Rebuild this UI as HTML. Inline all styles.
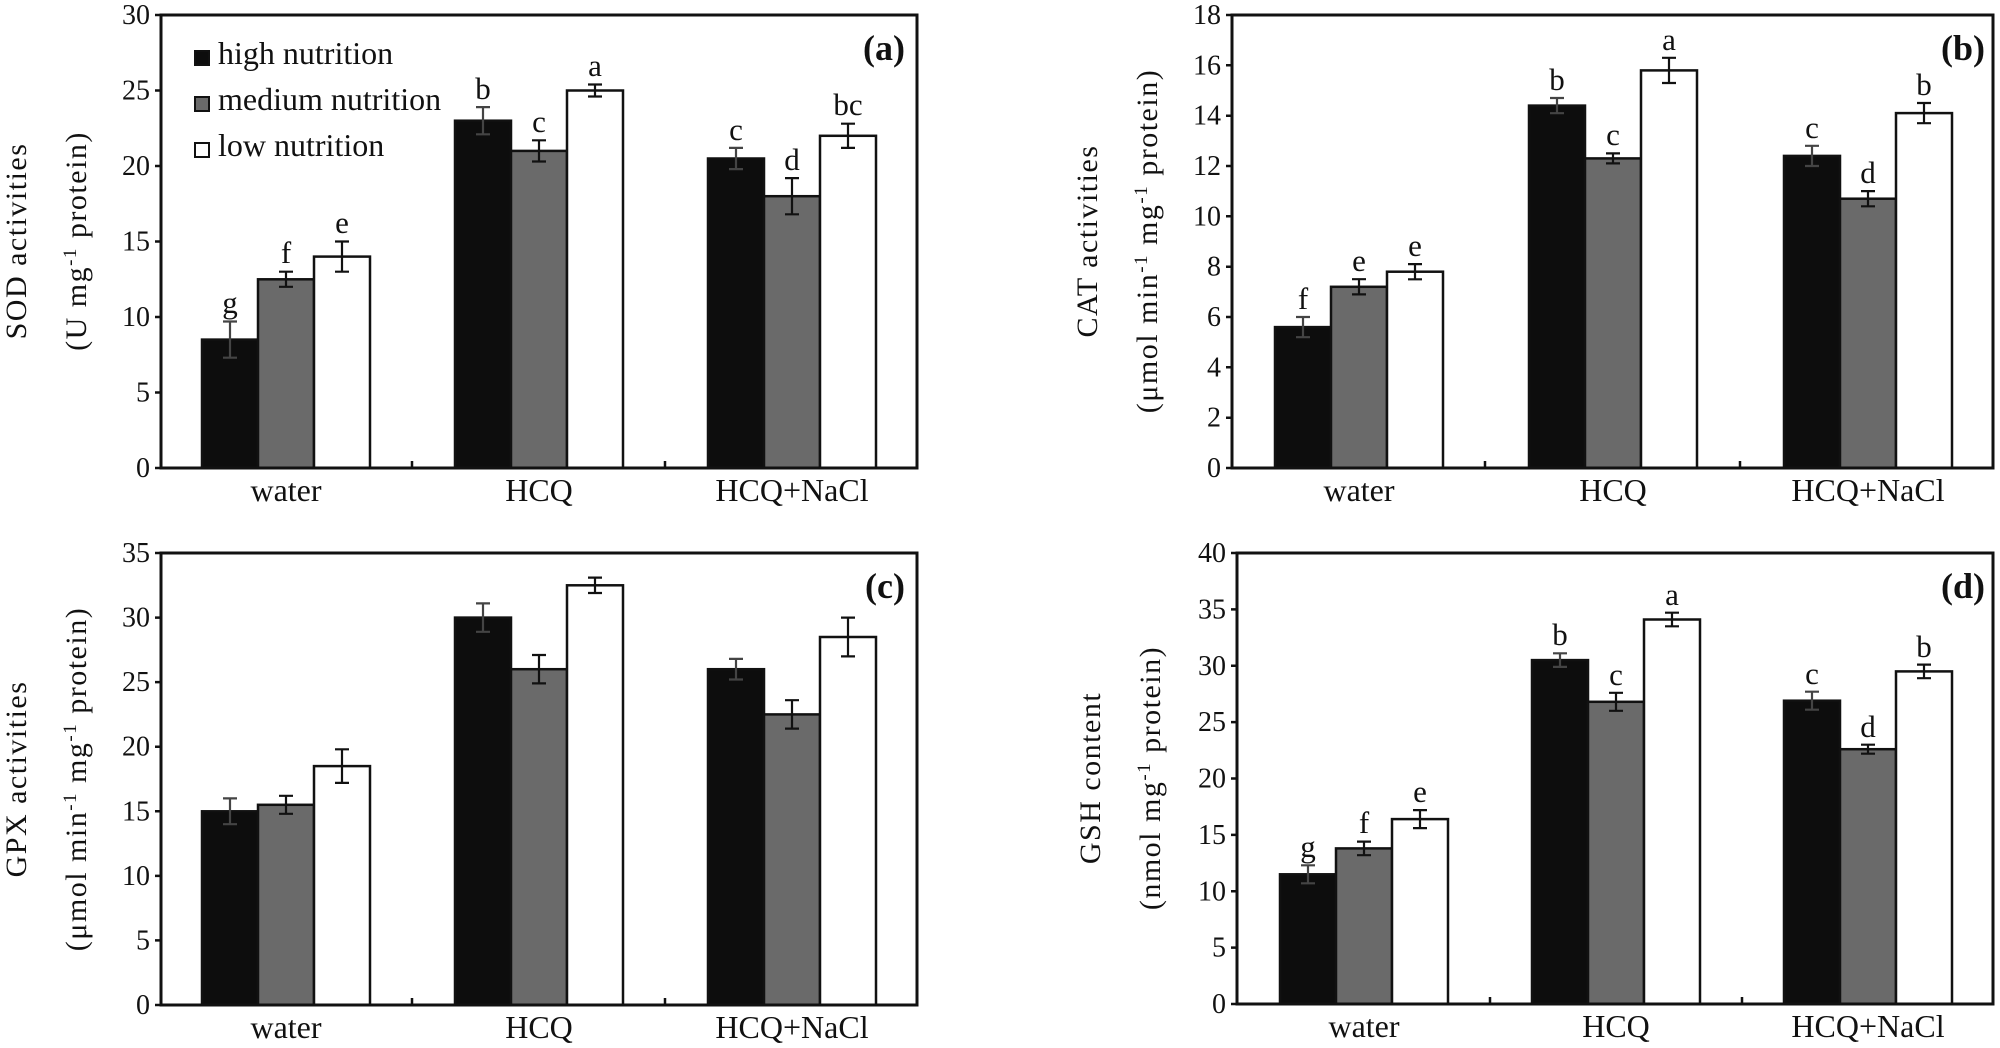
<!DOCTYPE html>
<html><head><meta charset="utf-8"><style>
html,body{margin:0;padding:0;background:#fff;}
svg{display:block;}
text{font-family:"Liberation Serif",serif;fill:#111;}
.t{font-size:28px;text-anchor:end;}
.c{font-size:32px;text-anchor:middle;}
.l{font-size:31px;text-anchor:middle;}
.p{font-size:36px;font-weight:bold;text-anchor:end;}
.y{font-size:30px;text-anchor:middle;letter-spacing:1.5px;}
.g{font-size:32px;}
.fr{fill:none;stroke:#111;stroke-width:3;}
.bk{fill:#0d0d0d;stroke:#111;stroke-width:2.5;}
.gr{fill:#6a6a6a;stroke:#111;stroke-width:2.5;}
.wh{fill:#fff;stroke:#111;stroke-width:2.5;}
.e{stroke:#111;stroke-width:2.2;fill:none;}
.e2{stroke:#444;stroke-width:2.2;fill:none;}
.tk{stroke:#111;stroke-width:2.5;}
</style></head><body>
<svg width="2000" height="1048" viewBox="0 0 2000 1048" xmlns="http://www.w3.org/2000/svg">
<!-- ===== Panel a ===== -->
<g>
<rect class="bk" x="202" y="339.6" width="56" height="128.4"/>
<rect class="gr" x="258" y="279.3" width="56" height="188.7"/>
<rect class="wh" x="314" y="256.6" width="56" height="211.4"/>
<rect class="bk" x="455" y="120.7" width="56" height="347.3"/>
<rect class="gr" x="511" y="150.9" width="56" height="317.1"/>
<rect class="wh" x="567" y="90.5" width="56" height="377.5"/>
<rect class="bk" x="708" y="158.5" width="56" height="309.5"/>
<rect class="gr" x="764" y="196.2" width="56" height="271.8"/>
<rect class="wh" x="820" y="135.8" width="56" height="332.2"/>
<path class="e2" d="M230 321.5V357.7M223 321.5H237M223 357.7H237"/>
<path class="e" d="M286 271.7V286.8M279 271.7H293M279 286.8H293"/>
<path class="e" d="M342 241.5V271.7M335 241.5H349M335 271.7H349"/>
<path class="e2" d="M483 107.1V134.3M476 107.1H490M476 134.3H490"/>
<path class="e" d="M539 140.3V161.5M532 140.3H546M532 161.5H546"/>
<path class="e" d="M595 84.5V96.5M588 84.5H602M588 96.5H602"/>
<path class="e2" d="M736 147.9V169.1M729 147.9H743M729 169.1H743"/>
<path class="e" d="M792 178.1V214.3M785 178.1H799M785 214.3H799"/>
<path class="e" d="M848 123.7V147.9M841 123.7H855M841 147.9H855"/>
<text class="l" x="230" y="313">g</text><text class="l" x="286" y="263">f</text><text class="l" x="342" y="233">e</text>
<text class="l" x="483" y="99">b</text><text class="l" x="539" y="132">c</text><text class="l" x="595" y="76">a</text>
<text class="l" x="736" y="140">c</text><text class="l" x="792" y="170">d</text><text class="l" x="848" y="115">bc</text>
<rect class="fr" x="161" y="15" width="756" height="453"/>
<path class="tk" d="M155 468H161M155 392.5H161M155 317H161M155 241.5H161M155 166H161M155 90.5H161M155 15H161M412 468V461M665 468V461"/>
<text class="t" x="150" y="477">0</text><text class="t" x="150" y="401.5">5</text><text class="t" x="150" y="326">10</text><text class="t" x="150" y="250.5">15</text><text class="t" x="150" y="175">20</text><text class="t" x="150" y="99.5">25</text><text class="t" x="150" y="24">30</text>
<text class="c" x="286" y="501">water</text><text class="c" x="539" y="501">HCQ</text><text class="c" x="792" y="501">HCQ+NaCl</text>
<text class="p" x="905" y="60">(a)</text>
<rect x="195" y="51" width="14" height="14" fill="#0d0d0d" stroke="#111" stroke-width="2"/>
<text class="g" x="218" y="64">high nutrition</text>
<rect x="195" y="97" width="14" height="14" fill="#6a6a6a" stroke="#111" stroke-width="2"/>
<text class="g" x="218" y="110">medium nutrition</text>
<rect x="195" y="143" width="14" height="14" fill="#fff" stroke="#111" stroke-width="2"/>
<text class="g" x="218" y="156">low nutrition</text>
<text class="y" transform="translate(26,241) rotate(-90)">SOD activities</text>
<text class="y" transform="translate(86,241) rotate(-90)">(U mg<tspan font-size="19" dy="-10">-1</tspan><tspan dy="10"> protein)</tspan></text>
</g>
<!-- ===== Panel b ===== -->
<g>
<rect class="bk" x="1275" y="327.1" width="56" height="140.9"/>
<rect class="gr" x="1331" y="286.8" width="56" height="181.2"/>
<rect class="wh" x="1387" y="271.7" width="56" height="196.3"/>
<rect class="bk" x="1529" y="105.6" width="56" height="362.4"/>
<rect class="gr" x="1585" y="158.4" width="56" height="309.6"/>
<rect class="wh" x="1641" y="70.4" width="56" height="397.6"/>
<rect class="bk" x="1784" y="155.9" width="56" height="312.1"/>
<rect class="gr" x="1840" y="198.7" width="56" height="269.3"/>
<rect class="wh" x="1896" y="113.1" width="56" height="354.9"/>
<path class="e2" d="M1303 317V337.2M1296 317H1310M1296 337.2H1310"/>
<path class="e" d="M1359 279.2V294.4M1352 279.2H1366M1352 294.4H1366"/>
<path class="e" d="M1415 264.1V279.3M1408 264.1H1422M1408 279.3H1422"/>
<path class="e2" d="M1557 98V113.2M1550 98H1564M1550 113.2H1564"/>
<path class="e" d="M1613 153.4V163.4M1606 153.4H1620M1606 163.4H1620"/>
<path class="e" d="M1669 57.8V83M1662 57.8H1676M1662 83H1676"/>
<path class="e2" d="M1812 145.8V166M1805 145.8H1819M1805 166H1819"/>
<path class="e" d="M1868 191.1V206.3M1861 191.1H1875M1861 206.3H1875"/>
<path class="e" d="M1924 103V123.2M1917 103H1931M1917 123.2H1931"/>
<text class="l" x="1303" y="309">f</text><text class="l" x="1359" y="271">e</text><text class="l" x="1415" y="256">e</text>
<text class="l" x="1557" y="90">b</text><text class="l" x="1613" y="145">c</text><text class="l" x="1669" y="50">a</text>
<text class="l" x="1812" y="138">c</text><text class="l" x="1868" y="183">d</text><text class="l" x="1924" y="95">b</text>
<rect class="fr" x="1232" y="15" width="761" height="453"/>
<path class="tk" d="M1226 468H1232M1226 417.7H1232M1226 367.3H1232M1226 317H1232M1226 266.7H1232M1226 216.3H1232M1226 166H1232M1226 115.7H1232M1226 65.3H1232M1226 15H1232M1485 468V461M1740 468V461"/>
<text class="t" x="1221" y="477">0</text><text class="t" x="1221" y="426.7">2</text><text class="t" x="1221" y="376.3">4</text><text class="t" x="1221" y="326">6</text><text class="t" x="1221" y="275.7">8</text><text class="t" x="1221" y="225.3">10</text><text class="t" x="1221" y="175">12</text><text class="t" x="1221" y="124.7">14</text><text class="t" x="1221" y="74.3">16</text><text class="t" x="1221" y="24">18</text>
<text class="c" x="1359" y="501">water</text><text class="c" x="1613" y="501">HCQ</text><text class="c" x="1868" y="501">HCQ+NaCl</text>
<text class="p" x="1985" y="60">(b)</text>
<text class="y" transform="translate(1097,241) rotate(-90)">CAT activities</text>
<text class="y" transform="translate(1157,241) rotate(-90)">(μmol min<tspan font-size="19" dy="-10">-1</tspan><tspan dy="10"> mg</tspan><tspan font-size="19" dy="-10">-1</tspan><tspan dy="10"> protein)</tspan></text>
</g>
<!-- ===== Panel c ===== -->
<g>
<rect class="bk" x="202" y="811.3" width="56" height="193.7"/>
<rect class="gr" x="258" y="804.8" width="56" height="200.2"/>
<rect class="wh" x="314" y="766.1" width="56" height="238.9"/>
<rect class="bk" x="455" y="617.6" width="56" height="387.4"/>
<rect class="gr" x="511" y="669.2" width="56" height="335.8"/>
<rect class="wh" x="567" y="585.3" width="56" height="419.7"/>
<rect class="bk" x="708" y="669.2" width="56" height="335.8"/>
<rect class="gr" x="764" y="714.4" width="56" height="290.6"/>
<rect class="wh" x="820" y="637" width="56" height="368"/>
<path class="e2" d="M230 798.4V824.2M223 798.4H237M223 824.2H237"/>
<path class="e" d="M286 795.8V813.8M279 795.8H293M279 813.8H293"/>
<path class="e" d="M342 749.3V782.9M335 749.3H349M335 782.9H349"/>
<path class="e2" d="M483 603.4V631.8M476 603.4H490M476 631.8H490"/>
<path class="e" d="M539 655V683.4M532 655H546M532 683.4H546"/>
<path class="e" d="M595 577.6V593M588 577.6H602M588 593H602"/>
<path class="e2" d="M736 658.9V679.5M729 658.9H743M729 679.5H743"/>
<path class="e" d="M792 700.2V728.6M785 700.2H799M785 728.6H799"/>
<path class="e" d="M848 617.6V656.4M841 617.6H855M841 656.4H855"/>
<rect class="fr" x="161" y="553" width="756" height="452"/>
<path class="tk" d="M155 1005H161M155 940.4H161M155 875.9H161M155 811.3H161M155 746.7H161M155 682.1H161M155 617.6H161M155 553H161M412 1005V998M665 1005V998"/>
<text class="t" x="150" y="1014">0</text><text class="t" x="150" y="949.4">5</text><text class="t" x="150" y="884.9">10</text><text class="t" x="150" y="820.3">15</text><text class="t" x="150" y="755.7">20</text><text class="t" x="150" y="691.1">25</text><text class="t" x="150" y="626.6">30</text><text class="t" x="150" y="562">35</text>
<text class="c" x="286" y="1038">water</text><text class="c" x="539" y="1038">HCQ</text><text class="c" x="792" y="1038">HCQ+NaCl</text>
<text class="p" x="905" y="598">(c)</text>
<text class="y" transform="translate(26,779) rotate(-90)">GPX activities</text>
<text class="y" transform="translate(86,779) rotate(-90)">(μmol min<tspan font-size="19" dy="-10">-1</tspan><tspan dy="10"> mg</tspan><tspan font-size="19" dy="-10">-1</tspan><tspan dy="10"> protein)</tspan></text>
</g>
<!-- ===== Panel d ===== -->
<g>
<rect class="bk" x="1280" y="874.3" width="56" height="129.7"/>
<rect class="gr" x="1336" y="848.4" width="56" height="155.6"/>
<rect class="wh" x="1392" y="819.1" width="56" height="184.9"/>
<rect class="bk" x="1532" y="660.1" width="56" height="343.9"/>
<rect class="gr" x="1588" y="701.8" width="56" height="302.2"/>
<rect class="wh" x="1644" y="619.5" width="56" height="384.5"/>
<rect class="bk" x="1784" y="700.7" width="56" height="303.3"/>
<rect class="gr" x="1840" y="749.2" width="56" height="254.8"/>
<rect class="wh" x="1896" y="671.4" width="56" height="332.6"/>
<path class="e2" d="M1308 865.3V883.3M1301 865.3H1315M1301 883.3H1315"/>
<path class="e" d="M1364 841.6V855.2M1357 841.6H1371M1357 855.2H1371"/>
<path class="e" d="M1420 810.1V828.1M1413 810.1H1427M1413 828.1H1427"/>
<path class="e2" d="M1560 653.3V666.9M1553 653.3H1567M1553 666.9H1567"/>
<path class="e" d="M1616 692.8V710.8M1609 692.8H1623M1609 710.8H1623"/>
<path class="e" d="M1672 612.7V626.3M1665 612.7H1679M1665 626.3H1679"/>
<path class="e2" d="M1812 691.7V709.7M1805 691.7H1819M1805 709.7H1819"/>
<path class="e" d="M1868 744.7V753.7M1861 744.7H1875M1861 753.7H1875"/>
<path class="e" d="M1924 664.6V678.2M1917 664.6H1931M1917 678.2H1931"/>
<text class="l" x="1308" y="857">g</text><text class="l" x="1364" y="833">f</text><text class="l" x="1420" y="802">e</text>
<text class="l" x="1560" y="645">b</text><text class="l" x="1616" y="685">c</text><text class="l" x="1672" y="605">a</text>
<text class="l" x="1812" y="684">c</text><text class="l" x="1868" y="737">d</text><text class="l" x="1924" y="657">b</text>
<rect class="fr" x="1237" y="553" width="756" height="451"/>
<path class="tk" d="M1231 1004H1237M1231 947.6H1237M1231 891.3H1237M1231 834.9H1237M1231 778.5H1237M1231 722.1H1237M1231 665.8H1237M1231 609.4H1237M1231 553H1237M1490 1004V997M1742 1004V997"/>
<text class="t" x="1226" y="1013">0</text><text class="t" x="1226" y="956.6">5</text><text class="t" x="1226" y="900.3">10</text><text class="t" x="1226" y="843.9">15</text><text class="t" x="1226" y="787.5">20</text><text class="t" x="1226" y="731.1">25</text><text class="t" x="1226" y="674.8">30</text><text class="t" x="1226" y="618.4">35</text><text class="t" x="1226" y="562">40</text>
<text class="c" x="1364" y="1037">water</text><text class="c" x="1616" y="1037">HCQ</text><text class="c" x="1868" y="1037">HCQ+NaCl</text>
<text class="p" x="1985" y="598">(d)</text>
<text class="y" transform="translate(1100,778) rotate(-90)">GSH content</text>
<text class="y" transform="translate(1160,778) rotate(-90)">(nmol mg<tspan font-size="19" dy="-10">-1</tspan><tspan dy="10"> protein)</tspan></text>
</g>
</svg>
</body></html>
